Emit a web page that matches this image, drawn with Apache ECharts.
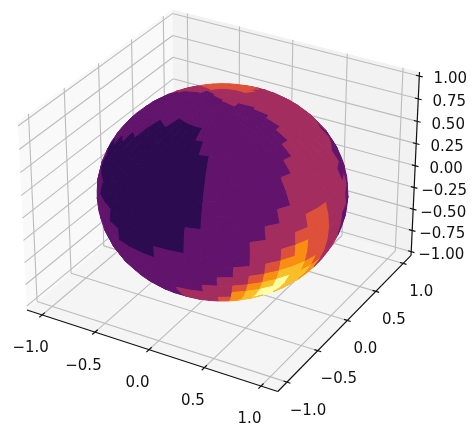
<!DOCTYPE html>
<html><head><meta charset="utf-8"><style>html,body{margin:0;background:#fff}#c{width:474px;height:435px}</style>
<script src="https://cdn.jsdelivr.net/npm/echarts@6/dist/echarts.min.js"></script></head><body><div id="c"></div>
<script>
// Axis ticks
const xTicks=[-1,-.5,0,.5,1];
const yTicks=[-1,-.5,0,.5,1];
const zTicks=[-1,-.75,-.5,-.25,0,.25,.5,.75,1];
// Colour value of each band seen on the surface
const levelValues=[.15,.28,.44,.6,.75,.85,1];
// Surface cells: one row per colatitude band, as runs of band x count,
// starting at the visible longitude cell given in rowStart.
const rowStart=[0,0,0,0,3,6,8,9,10,11,11,12,13,14,14,15,17,18,21];
const rowRuns=[
'2x5 1x26 2x18',
'2x4 1x31 2x14',
'3x3 2x3 1x28 2x9 3x6',
'3x3 2x3 1x10 0x5 1x12 2x11 3x5',
'2x3 1x8 0x8 1x10 2x13 3x1',
'1x8 0x9 1x8 2x12',
'1x5 0x10 1x7 2x11',
'1x3 0x11 1x6 2x9 1x1 2x1',
'1x1 0x12 1x6 2x7 1x3',
'1x1 0x11 1x5 2x7 1x3',
'1x3 0x8 1x5 2x3 3x2 2x4 1x1',
'1x4 0x6 1x4 2x3 3x3 2x3 1x1',
'1x4 0x3 1x6 2x2 3x1 4x1 3x2 2x2 1x2',
'1x11 2x2 3x1 4x2 3x2 2x2 1x1',
'1x10 2x2 3x1 4x1 5x2 4x1 3x1 2x2',
'1x8 2x2 3x1 4x1 5x1 6x1 5x2 4x1 2x1',
'1x4 2x4 4x1 5x1 6x2 5x2 4x1',
'1x3 2x3 3x1 4x1 5x1 6x2 5x2',
'2x3 3x1 4x1 5x2'];
const NLON=49,NLAT=24,FIRST_LON=41;
const L=1.146,Lz=1.045,hx=.59525,hz=.44644;
function proj(x,y,z){const a=x/L*hx,b=y/L*hx,c=z/Lz*hz;const U=.866025*a+.5*b,V=-.25*a+.433013*b+.866025*c,W=.433013*a-.75*b+.5*c,f=10/(10-W);return [U*f,V*f];}
const du=2*Math.PI/NLON,dv=Math.PI/NLAT;
function sp(i,j){const u=-Math.PI+i*du,v=j*dv;return [Math.cos(u)*Math.sin(v),Math.sin(u)*Math.sin(v),Math.cos(v)];}
const cells=[];
rowRuns.forEach((r,j)=>{let k=rowStart[j];r.split(' ').forEach(t=>{const [lv,n]=t.split('x').map(Number);for(let m=0;m<n;m++,k++)cells.push([(FIRST_LON+k)%NLON,j,levelValues[lv]]);});});
const inferno=['#000004','#160b39','#420a68','#6a176e','#932667','#bc3754','#dd513a','#f37819','#fca50a','#f6d746','#fcffa4'];
const ch=echarts.init(document.getElementById('c'));
const E=L;
const panes=[[[-E,-E,-Lz],[-E,E,-Lz],[-E,E,Lz],[-E,-E,Lz],'#f9f9f9'],[[-E,E,-Lz],[E,E,-Lz],[E,E,Lz],[-E,E,Lz],'#f2f2f2'],[[-E,-E,-Lz],[E,-E,-Lz],[E,E,-Lz],[-E,E,-Lz],'#f5f5f5']];
const segs=[];
xTicks.forEach(t=>{segs.push([[t,-E,-Lz],[t,E,-Lz]]);segs.push([[t,E,-Lz],[t,E,Lz]]);});
yTicks.forEach(t=>{segs.push([[-E,t,-Lz],[E,t,-Lz]]);segs.push([[-E,t,-Lz],[-E,t,Lz]]);});
zTicks.forEach(t=>{segs.push([[-E,-E,t],[-E,E,t]]);segs.push([[-E,E,t],[E,E,t]]);});
const axSegs=[[[-E,-E,-Lz],[E,-E,-Lz]],[[E,-E,-Lz],[E,E,-Lz]],[[E,E,-Lz],[E,E,Lz]]];
xTicks.forEach(t=>axSegs.push([[t,-E-.04,-Lz],[t,-E+.04,-Lz]]));
yTicks.forEach(t=>axSegs.push([[E-.03,t,-Lz],[E+.03,t,-Lz]]));
zTicks.forEach(t=>axSegs.push([[E-.03,E,t],[E+.03,E,t]]));
const fmt=(t,n)=>t.toFixed(n).replace('-','\u2212');
const texts=[];
xTicks.forEach(t=>texts.push([proj(t,-E,-Lz),-11.5,33.5,fmt(t,1)]));
yTicks.forEach(t=>texts.push([proj(E,t,-Lz),t<0?21:18,28.5,fmt(t,1)]));
zTicks.forEach(t=>texts.push([proj(E,E,t),t<0?30:31,3.5,fmt(t,2)]));
const line=(d,color,w,z)=>({type:'custom',coordinateSystem:'cartesian2d',z,silent:true,data:d.map((_,i)=>[i,0]),
 renderItem:(p,api)=>{const s=d[p.dataIndex];const a=api.coord(proj(...s[0])),b=api.coord(proj(...s[1]));
 return {type:'line',shape:{x1:a[0],y1:a[1],x2:b[0],y2:b[1]},style:{stroke:color,lineWidth:w}};}});
ch.setOption({animation:false,
 grid:{left:0,right:0,top:0,bottom:0},
 xAxis:{type:'value',show:false,min:-.9218,max:1.0417},
 yAxis:{type:'value',show:false,min:-1.0142,max:.7968},
 visualMap:{show:false,seriesIndex:3,dimension:2,min:0,max:1,inRange:{color:inferno}},
 series:[
 {type:'custom',z:1,silent:true,data:panes.map((_,i)=>[i,0]),renderItem:(p,api)=>{const s=panes[p.dataIndex];
   return {type:'polygon',shape:{points:s.slice(0,4).map(c=>api.coord(proj(...c)))},style:{fill:s[4]}};}},
 line(segs,'#bcbcbc',1.1,2),
 line(axSegs,'#111',1.2,5),
 {type:'custom',z:3,silent:true,data:cells,renderItem:(p,api)=>{const i=api.value(0),j=api.value(1),c=api.visual('color');
   return {type:'polygon',shape:{points:[sp(i,j),sp(i+1,j),sp(i+1,j+1),sp(i,j+1)].map(q=>api.coord(proj(...q)))},style:{fill:c,stroke:c,lineWidth:1}};}},
 {type:'custom',z:6,silent:true,data:texts.map((_,i)=>[i,0]),renderItem:(p,api)=>{const s=texts[p.dataIndex];const a=api.coord(s[0]);
   return {type:'text',x:a[0]+s[1],y:a[1]+s[2],style:{text:s[3],fontSize:15,fontFamily:'DejaVu Sans',fill:'#111',align:'center',verticalAlign:'middle'}};}}
 ]});
</script></body></html>
